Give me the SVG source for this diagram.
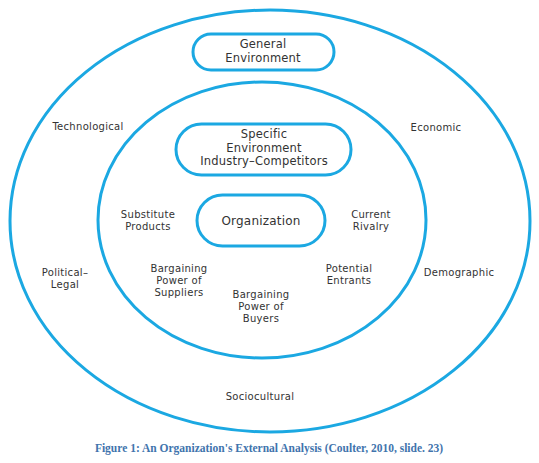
<svg xmlns="http://www.w3.org/2000/svg" width="539" height="463" viewBox="0 0 539 463">
<style>
.ring{fill:none;stroke:#1ba8e2;stroke-width:3}
.pill{fill:#fff;stroke:#1ba8e2;stroke-width:3}
.t{font-family:"DejaVu Sans","Liberation Sans",sans-serif;font-size:10px;letter-spacing:0.3px;fill:#333;text-anchor:middle}
.pt{font-family:"DejaVu Sans","Liberation Sans",sans-serif;font-size:11.5px;letter-spacing:0.2px;fill:#333;text-anchor:middle}
.cap{font-family:"Liberation Serif",serif;font-size:11.5px;font-weight:bold;fill:#3f74ad;text-anchor:middle}
</style>
<rect width="539" height="463" fill="#fff"/>
<g id="general-ring"><ellipse class="ring" cx="270" cy="221" rx="260" ry="211"/></g>
<g id="specific-ring"><ellipse class="ring" cx="262" cy="220" rx="164" ry="138"/></g>
<g id="connectors"></g>
<g id="general-environment">
<rect class="pill" x="193" y="34" width="141" height="36" rx="18"/>
<text class="pt" x="263" y="48">General<tspan x="263" dy="13.6">Environment</tspan></text>
</g>
<g id="specific-environment">
<rect class="pill" x="176" y="124" width="175" height="51" rx="25.5"/>
<text class="pt" x="264" y="138">Specific<tspan x="264" dy="13.6">Environment</tspan><tspan x="264" dy="13.6">Industry–Competitors</tspan></text>
</g>
<g id="organization">
<rect class="pill" x="197" y="195" width="128" height="51" rx="25.5"/>
<text class="pt" x="261" y="225" style="font-size:12px">Organization</text>
</g>
<g id="general-factors">
<text class="t" x="88" y="130">Technological</text>
<text class="t" x="436" y="131">Economic</text>
<text class="t" x="65" y="276">Political–<tspan x="65" dy="11.8">Legal</tspan></text>
<text class="t" x="459" y="276">Demographic</text>
<text class="t" x="260" y="400">Sociocultural</text>
</g>
<g id="specific-factors">
<text class="t" x="148" y="218">Substitute<tspan x="148" dy="11.8">Products</tspan></text>
<text class="t" x="371" y="218">Current<tspan x="371" dy="11.8">Rivalry</tspan></text>
<text class="t" x="179" y="272">Bargaining<tspan x="179" dy="11.8">Power of</tspan><tspan x="179" dy="11.8">Suppliers</tspan></text>
<text class="t" x="261" y="298">Bargaining<tspan x="261" dy="11.8">Power of</tspan><tspan x="261" dy="11.8">Buyers</tspan></text>
<text class="t" x="349" y="272">Potential<tspan x="349" dy="11.8">Entrants</tspan></text>
</g>
<text class="cap" x="269" y="452">Figure 1: An Organization's External Analysis (Coulter, 2010, slide. 23)</text>
</svg>
